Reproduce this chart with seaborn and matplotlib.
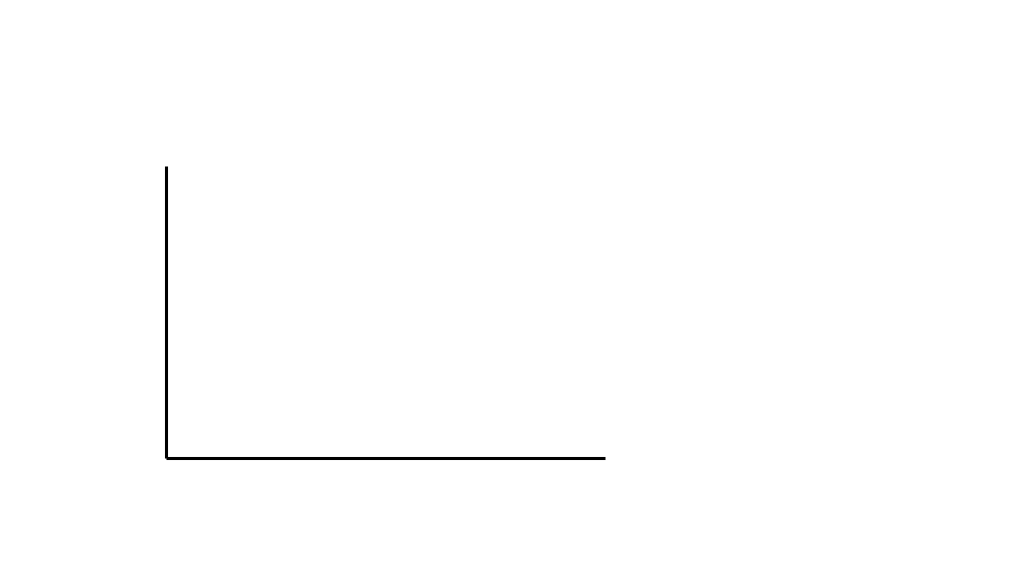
import matplotlib
matplotlib.use("Agg")
import matplotlib.pyplot as plt
import seaborn as sns

# the reference is an empty chart frame: no data, no ticks, no labels
x_values = []
y_values = []

sns.set_style("white")

fig = plt.figure(figsize=(10.24, 5.76), dpi=100)
ax = fig.add_axes([0.1621, 0.2049, 0.4287, 0.5069])

if x_values:
    sns.lineplot(x=x_values, y=y_values, ax=ax)

sns.despine(ax=ax)
for side in ["left", "bottom"]:
    ax.spines[side].set_color("black")
    ax.spines[side].set_linewidth(2.2)
    ax.spines[side].set_capstyle("butt")

ax.set_xticks([])
ax.set_yticks([])
ax.set_xlabel("")
ax.set_ylabel("")

fig.savefig("out.png", dpi=100, facecolor="white")
